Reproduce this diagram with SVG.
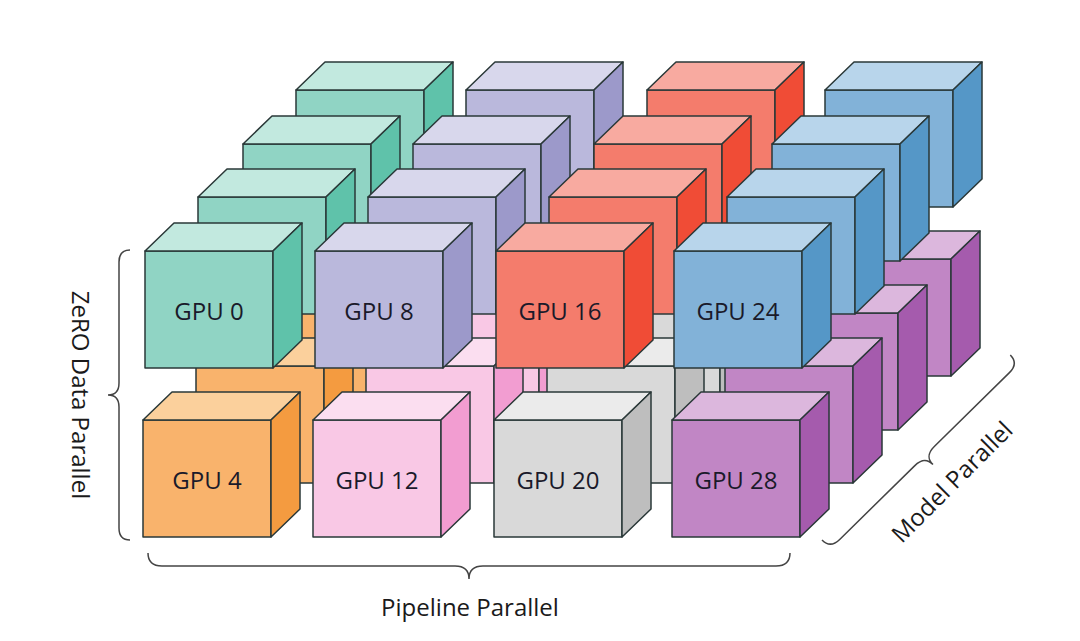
<svg xmlns="http://www.w3.org/2000/svg" xmlns:xlink="http://www.w3.org/1999/xlink" width="1080" height="641" viewBox="0 0 1080 641">
<style>
.e{stroke:#2a3838;stroke-width:1.5;stroke-linejoin:round}
.lbl{font-family:"Open Sans","Liberation Sans",sans-serif;font-size:24px;fill:#1a1a2a;text-anchor:middle;dominant-baseline:central}
.ax{font-family:"Open Sans","Liberation Sans",sans-serif;font-size:24px;fill:#1a1a1a;text-anchor:middle}
.br{fill:none;stroke:#444;stroke-width:1.5}
</style>
<defs>
<g id="teal"><rect class="e" width="128" height="117" fill="#90d4c4"/><polygon class="e" points="0,0 29,-28 157,-28 128,0" fill="#c2e9df"/><polygon class="e" points="128,0 157,-28 157,89 128,117" fill="#5fc2aa"/></g>
<g id="lav"><rect class="e" width="128" height="117" fill="#bab8dc"/><polygon class="e" points="0,0 29,-28 157,-28 128,0" fill="#d8d7ec"/><polygon class="e" points="128,0 157,-28 157,89 128,117" fill="#9c99ca"/></g>
<g id="red"><rect class="e" width="128" height="117" fill="#f47c6c"/><polygon class="e" points="0,0 29,-28 157,-28 128,0" fill="#f8aaa0"/><polygon class="e" points="128,0 157,-28 157,89 128,117" fill="#f04c36"/></g>
<g id="blue"><rect class="e" width="128" height="117" fill="#82b2d8"/><polygon class="e" points="0,0 29,-28 157,-28 128,0" fill="#b8d5eb"/><polygon class="e" points="128,0 157,-28 157,89 128,117" fill="#5597c7"/></g>
<g id="orange"><rect class="e" width="128" height="117" fill="#f9b36c"/><polygon class="e" points="0,0 29,-28 157,-28 128,0" fill="#fbd09c"/><polygon class="e" points="128,0 157,-28 157,89 128,117" fill="#f49b40"/></g>
<g id="pink"><rect class="e" width="128" height="117" fill="#f9c8e5"/><polygon class="e" points="0,0 29,-28 157,-28 128,0" fill="#fbdef0"/><polygon class="e" points="128,0 157,-28 157,89 128,117" fill="#f29dd1"/></g>
<g id="gray"><rect class="e" width="128" height="117" fill="#d9d9d9"/><polygon class="e" points="0,0 29,-28 157,-28 128,0" fill="#ebebeb"/><polygon class="e" points="128,0 157,-28 157,89 128,117" fill="#bebebe"/></g>
<g id="purple"><rect class="e" width="128" height="117" fill="#c186c5"/><polygon class="e" points="0,0 29,-28 157,-28 128,0" fill="#dcb7dd"/><polygon class="e" points="128,0 157,-28 157,89 128,117" fill="#a55bad"/></g>
<path id="brace" d="M0,0 C0,-8 4,-11 12,-11 L0,0"/>
</defs>
<!-- layer 3 -->
<g id="c3"><use xlink:href="#teal" x="296" y="90"/></g>
<g id="c11"><use xlink:href="#lav" x="466" y="90"/></g>
<g id="c19"><use xlink:href="#red" x="647" y="90"/></g>
<g id="c27"><use xlink:href="#blue" x="825" y="90"/></g>
<g id="c7"><use xlink:href="#orange" x="294" y="259"/></g>
<g id="c15"><use xlink:href="#pink" x="464" y="259"/></g>
<g id="c23"><use xlink:href="#gray" x="645" y="259"/></g>
<g id="c31"><use xlink:href="#purple" x="823" y="259"/></g>
<!-- layer 2 -->
<g id="c2"><use xlink:href="#teal" x="243" y="144"/></g>
<g id="c10"><use xlink:href="#lav" x="413" y="144"/></g>
<g id="c18"><use xlink:href="#red" x="594" y="144"/></g>
<g id="c26"><use xlink:href="#blue" x="772" y="144"/></g>
<g id="c6"><use xlink:href="#orange" x="241" y="313"/></g>
<g id="c14"><use xlink:href="#pink" x="411" y="313"/></g>
<g id="c22"><use xlink:href="#gray" x="592" y="313"/></g>
<g id="c30"><use xlink:href="#purple" x="770" y="313"/></g>
<!-- layer 1 -->
<g id="c1"><use xlink:href="#teal" x="198" y="197"/></g>
<g id="c9"><use xlink:href="#lav" x="368" y="197"/></g>
<g id="c17"><use xlink:href="#red" x="549" y="197"/></g>
<g id="c25"><use xlink:href="#blue" x="727" y="197"/></g>
<g id="c5"><use xlink:href="#orange" x="196" y="366"/></g>
<g id="c13"><use xlink:href="#pink" x="366" y="366"/></g>
<g id="c21"><use xlink:href="#gray" x="547" y="366"/></g>
<g id="c29"><use xlink:href="#purple" x="725" y="366"/></g>
<!-- layer 0 -->
<g id="gpu0"><use xlink:href="#teal" x="145" y="251"/><text class="lbl" x="209" y="310">GPU 0</text></g>
<g id="gpu8"><use xlink:href="#lav" x="315" y="251"/><text class="lbl" x="379" y="310">GPU 8</text></g>
<g id="gpu16"><use xlink:href="#red" x="496" y="251"/><text class="lbl" x="560" y="310">GPU 16</text></g>
<g id="gpu24"><use xlink:href="#blue" x="674" y="251"/><text class="lbl" x="738" y="310">GPU 24</text></g>
<g id="gpu4"><use xlink:href="#orange" x="143" y="420"/><text class="lbl" x="207" y="479">GPU 4</text></g>
<g id="gpu12"><use xlink:href="#pink" x="313" y="420"/><text class="lbl" x="377" y="479">GPU 12</text></g>
<g id="gpu20"><use xlink:href="#gray" x="494" y="420"/><text class="lbl" x="558" y="479">GPU 20</text></g>
<g id="gpu28"><use xlink:href="#purple" x="672" y="420"/><text class="lbl" x="736" y="479">GPU 28</text></g>
<!-- braces -->
<g id="connectors">
<path class="br" transform="translate(130,540) rotate(-90)" d="M0,0 C0,-8 4,-11 12,-11 L133,-11 C141,-11 145,-14 145,-22 C145,-14 149,-11 157,-11 L278,-11 C286,-11 290,-8 290,0"/>
<path class="br" transform="translate(148,553) scale(1,-1)" d="M0,0 C0,-8 4,-13 14,-13 L307,-13 C316,-13 321,-17 321,-26 C321,-17 326,-13 335,-13 L628,-13 C638,-13 642,-8 642,0"/>
<path class="br" transform="translate(822,540) rotate(-44.5) scale(1,-1)" d="M0,0 C0,-8 4,-12 13,-12 L118,-12 C127,-12 132,-15 132,-24 C132,-15 137,-12 146,-12 L251,-12 C260,-12 264,-8 264,0"/>
</g>
<text class="ax" transform="translate(72,395) rotate(90)">ZeRO Data Parallel</text>
<text class="ax" x="470" y="616">Pipeline Parallel</text>
<text class="ax" transform="translate(958,488) rotate(-45)">Model Parallel</text>
</svg>
